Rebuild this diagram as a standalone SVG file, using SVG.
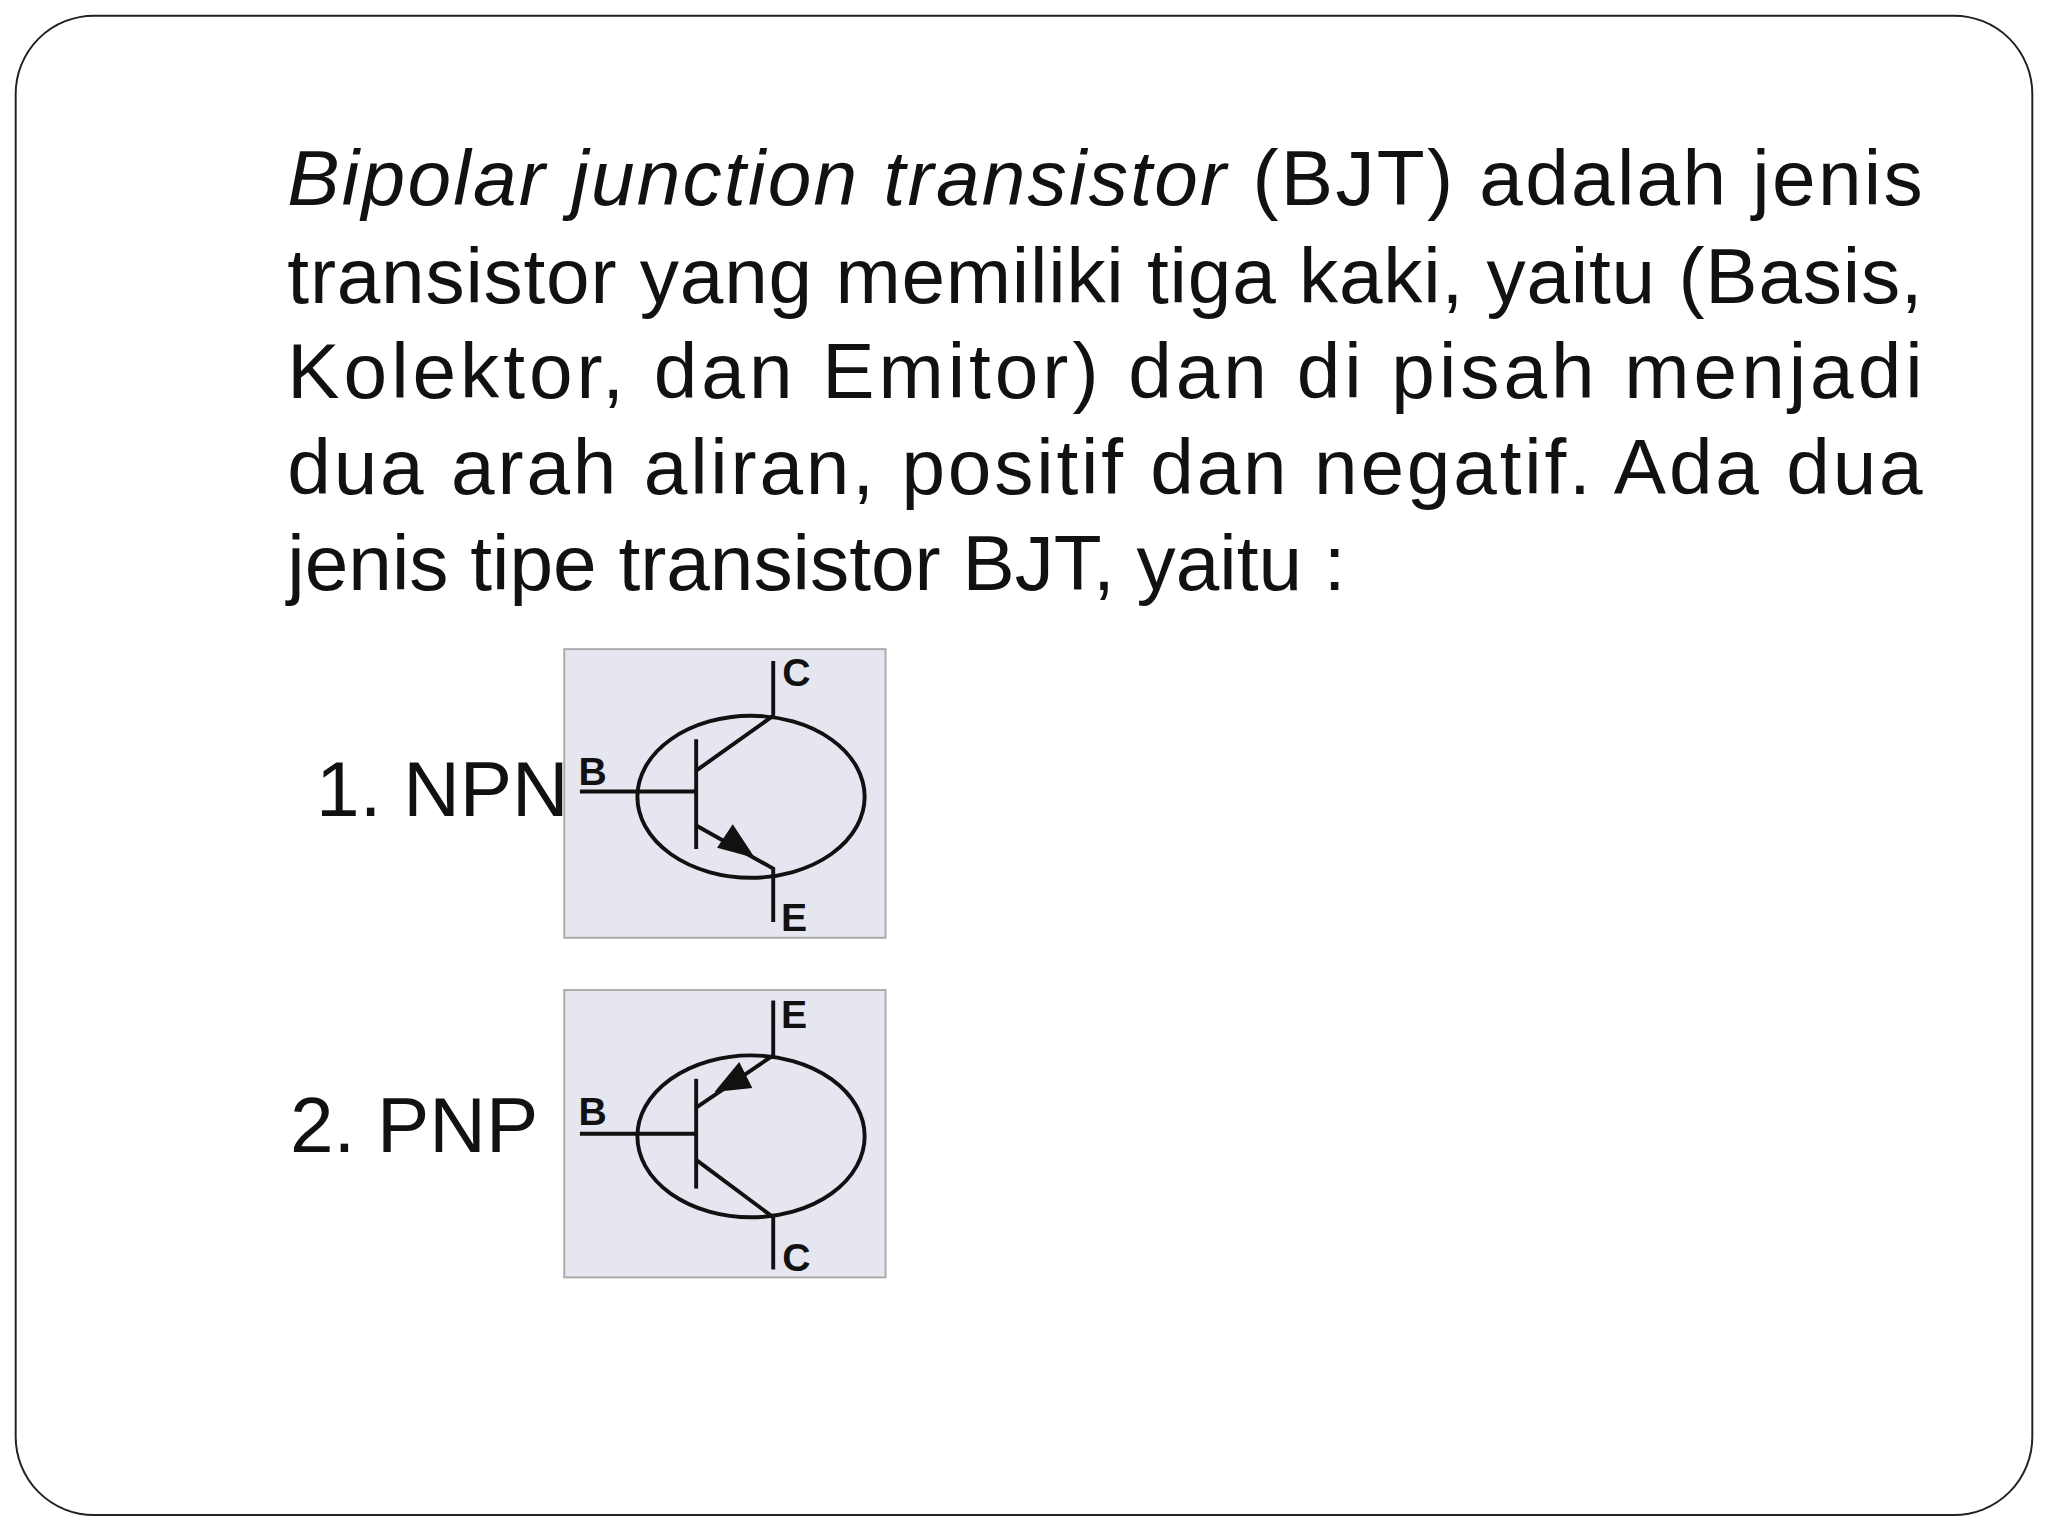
<svg xmlns="http://www.w3.org/2000/svg" width="2048" height="1536" viewBox="0 0 2048 1536">
<style>
.t{font-family:"Liberation Sans",Arial,sans-serif;font-size:60px;fill:#111}
.l{font-family:"Liberation Sans",Arial,sans-serif;font-size:30px;font-weight:bold;fill:#111}
.s{stroke:#111;stroke-width:3;fill:none}
.box{fill:#e6e6f0;stroke:#aaa;stroke-width:1.5}
</style>
<rect width="2048" height="1536" fill="#fff"/>
<g transform="scale(1.30612)">
<rect x="12" y="12" width="1544" height="1148" rx="60" fill="#fff" stroke="#222" stroke-width="1.5"/>
<g id="text">
<text class="t" x="220" y="157" textLength="1252" lengthAdjust="spacing"><tspan font-style="italic">Bipolar junction transistor</tspan> (BJT) adalah jenis</text>
<text class="t" x="220" y="232" textLength="1252" lengthAdjust="spacing">transistor yang memiliki tiga kaki, yaitu (Basis,</text>
<text class="t" x="220" y="305" textLength="1252" lengthAdjust="spacing">Kolektor, dan Emitor) dan di pisah menjadi</text>
<text class="t" x="220" y="378" textLength="1252" lengthAdjust="spacing">dua arah aliran, positif dan negatif. Ada dua</text>
<text class="t" x="220" y="452">jenis tipe transistor BJT, yaitu :</text>
<text class="t" x="242" y="625">1. NPN</text>
<text class="t" x="222" y="882">2. PNP</text>
</g>
<g id="npn">
<rect class="box" x="432" y="497" width="246" height="221"/>
<ellipse class="s" cx="575" cy="610" rx="87" ry="62"/>
<line class="s" x1="444" y1="606" x2="533" y2="606"/>
<line class="s" x1="533" y1="566" x2="533" y2="650" stroke-width="3.5"/>
<polyline class="s" points="533,590 592,548 592,506"/>
<polyline class="s" points="533,632 592,665 592,706"/>
<polygon points="578,657 549,649 561,631" fill="#111"/>
<text class="l" x="599" y="525">C</text>
<text class="l" x="443" y="601">B</text>
<text class="l" x="598" y="713">E</text>
</g>
<g id="pnp">
<rect class="box" x="432" y="758" width="246" height="220"/>
<ellipse class="s" cx="575" cy="870" rx="87" ry="62"/>
<line class="s" x1="444" y1="868" x2="533" y2="868"/>
<line class="s" x1="533" y1="826" x2="533" y2="910" stroke-width="3.5"/>
<polyline class="s" points="533,848 592,808 592,766"/>
<polyline class="s" points="533,888 592,932 592,972"/>
<polygon points="547,836 576,833 566,813" fill="#111"/>
<text class="l" x="598" y="787">E</text>
<text class="l" x="443" y="861">B</text>
<text class="l" x="599" y="973">C</text>
</g>
</g>
</svg>
